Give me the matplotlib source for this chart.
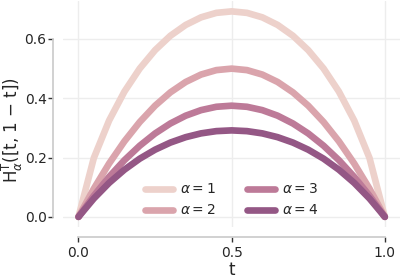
import matplotlib
matplotlib.use("Agg")
import matplotlib.pyplot as plt
import seaborn as sns

# Tsallis entropy of the pair [t, 1 - t] for a few alpha values
t = [0.0, 0.05, 0.1, 0.15, 0.2, 0.25, 0.3, 0.35, 0.4, 0.45, 0.5,
     0.55, 0.6, 0.65, 0.7, 0.75, 0.8, 0.85, 0.9, 0.95, 1.0]
h_alpha1 = [0.0, 0.1985, 0.3251, 0.4227, 0.5004, 0.5623, 0.6109, 0.6474, 0.6730, 0.6881, 0.6931,
            0.6881, 0.6730, 0.6474, 0.6109, 0.5623, 0.5004, 0.4227, 0.3251, 0.1985, 0.0]
h_alpha2 = [0.0, 0.095, 0.18, 0.255, 0.32, 0.375, 0.42, 0.455, 0.48, 0.495, 0.5,
            0.495, 0.48, 0.455, 0.42, 0.375, 0.32, 0.255, 0.18, 0.095, 0.0]
h_alpha3 = [0.0, 0.0713, 0.135, 0.1913, 0.24, 0.2813, 0.315, 0.3413, 0.36, 0.3713, 0.375,
            0.3713, 0.36, 0.3413, 0.315, 0.2813, 0.24, 0.1913, 0.135, 0.0713, 0.0]
h_alpha4 = [0.0, 0.0618, 0.1146, 0.1592, 0.1963, 0.2266, 0.2506, 0.2688, 0.2816, 0.2892, 0.2917,
            0.2892, 0.2816, 0.2688, 0.2506, 0.2266, 0.1963, 0.1592, 0.1146, 0.0618, 0.0]
alphas = [1, 2, 3, 4]
series = [h_alpha1, h_alpha2, h_alpha3, h_alpha4]

sns.set_theme(style="whitegrid", context="notebook")
cores = sns.cubehelix_palette(6)[:4]

fig, ax = plt.subplots(figsize=(4.05, 2.77), dpi=100)
fig.subplots_adjust(left=0.156, right=0.988, bottom=0.18, top=0.996)

for a, h, c in zip(alphas, series, cores):
    ax.plot(t, h, color=c, lw=4.8, solid_capstyle="round", label=rf"$\alpha = {a}$")

ax.set_xticks([0.0, 0.5, 1.0])
ax.set_yticks([0.0, 0.2, 0.4, 0.6])
ax.set_xlabel("t", fontsize=12, labelpad=1)
ax.set_ylabel(r"H$^\mathrm{T}_\alpha$([t, 1 − t])", fontsize=12)
ax.yaxis.set_label_coords(-0.113, 0.43)
ax.tick_params(axis="both", which="major", length=3.5, width=1, color="0.2",
               labelsize=10, pad=1.5, left=True, bottom=True)
ax.tick_params(axis="x", pad=3)
ax.legend(ncol=2, loc="lower center", frameon=False, fontsize=10, handlelength=2.0,
          handletextpad=0.55, columnspacing=2.2, borderaxespad=0.3)
ax.grid(True, color="0.93")
sns.despine(ax=ax, offset=7, trim=True)

fig.savefig("out.png", dpi=100)
